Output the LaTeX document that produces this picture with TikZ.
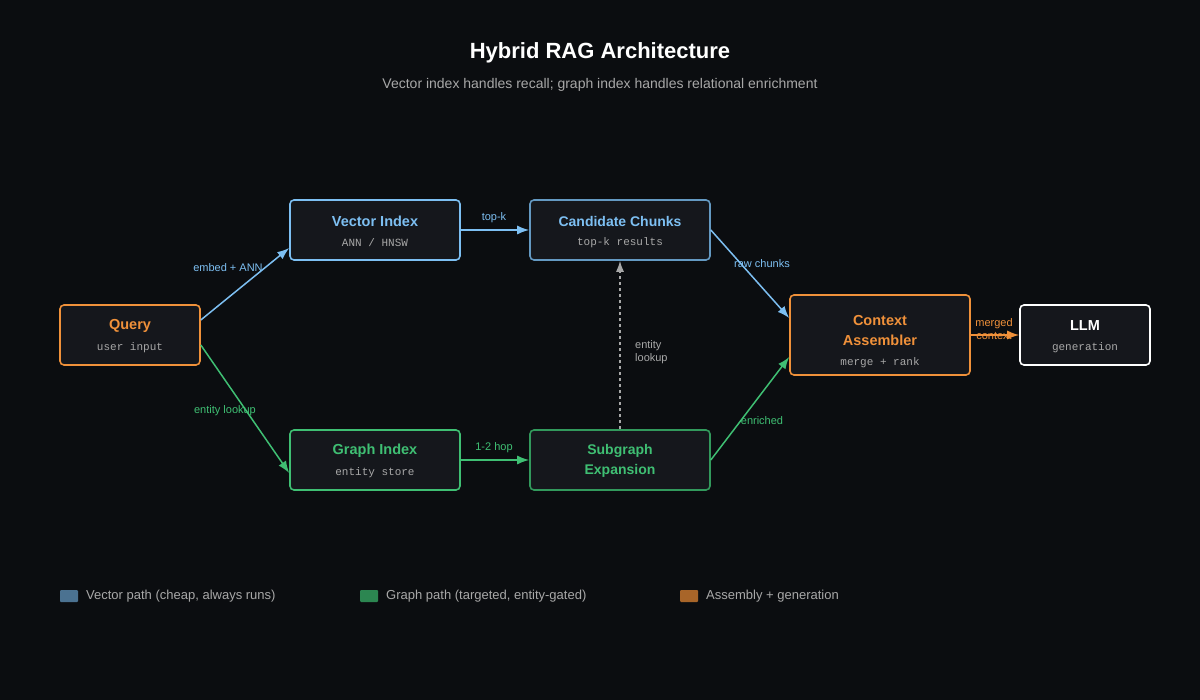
\documentclass[tikz,border=0pt]{standalone}
\usepackage{fontspec}
\setmainfont{Liberation Sans}
\setmonofont{Liberation Mono}
\usetikzlibrary{arrows.meta}
\definecolor{bg}{HTML}{0B0D10}
\definecolor{boxfill}{HTML}{15171C}
\definecolor{vecblue}{HTML}{7DBFF2}
\definecolor{graphgreen}{HTML}{3FBF73}
\definecolor{asmorange}{HTML}{F0913A}
\definecolor{subgray}{HTML}{A8A8A8}
\tikzset{
  box/.style={draw, rounded corners=4pt, line width=1.6pt, fill=boxfill, inner sep=0pt},
  ttl/.style={font=\bfseries\fontsize{14.5}{17}\selectfont, align=center},
  sub/.style={font=\ttfamily\fontsize{11}{13}\selectfont, text=subgray},
  lbl/.style={font=\fontsize{11}{13}\selectfont, inner sep=0pt},
  arr/.style={-{Latex[length=12pt,width=9pt]}, line width=1.5pt},
}
\begin{document}
\begin{tikzpicture}[x=1pt,y=-1pt]
  \fill[bg] (0,0) rectangle (1200,700);
  \useasboundingbox (0,0) rectangle (1200,700);
  % title
  \node[text=white, font=\bfseries\fontsize{22}{26}\selectfont] (title) at (600,53) {Hybrid RAG Architecture};
  \node[text=subgray, font=\fontsize{14}{17}\selectfont] (subtitle) at (600,85) {Vector index handles recall; graph index handles relational enrichment};
  % boxes
  \node[box, draw=asmorange, minimum width=140pt, minimum height=60pt] (query) at (130,335) {};
  \node[ttl, text=asmorange] at (130,326) {Query};
  \node[sub] at (130,348) {user input};
  \node[box, draw=vecblue, minimum width=170pt, minimum height=60pt] (vec) at (375,230) {};
  \node[ttl, text=vecblue] at (375,221) {Vector Index};
  \node[sub] at (375,243) {ANN / HNSW};
  \node[box, draw=vecblue!80!black, minimum width=180pt, minimum height=60pt] (cand) at (620,230) {};
  \node[ttl, text=vecblue, font=\bfseries\fontsize{14}{17}\selectfont] at (620,221) {Candidate Chunks};
  \node[sub] at (620,243) {top-k results};
  \node[box, draw=graphgreen, minimum width=170pt, minimum height=60pt] (graph) at (375,460) {};
  \node[ttl, text=graphgreen] at (375,451) {Graph Index};
  \node[sub] at (375,473) {entity store};
  \node[box, draw=graphgreen!80!black, minimum width=180pt, minimum height=60pt] (subg) at (620,460) {};
  \node[ttl, text=graphgreen, font=\bfseries\fontsize{14}{20}\selectfont] at (620,461) {Subgraph\\Expansion};
  \node[box, draw=asmorange, minimum width=180pt, minimum height=80pt] (ctx) at (880,335) {};
  \node[ttl, text=asmorange, font=\bfseries\fontsize{14.5}{20}\selectfont] at (880,331) {Context\\Assembler};
  \node[sub] at (880,363) {merge + rank};
  \node[box, draw=white, minimum width=130pt, minimum height=60pt] (llm) at (1085,335) {};
  \node[ttl, text=white] at (1085,326) {LLM};
  \node[sub] at (1085,348) {generation};
  % connectors
  \draw[arr, vecblue] ([yshift=15pt]query.east) -- ([yshift=-18pt]vec.west);
  \draw[arr, graphgreen] ([yshift=-10pt]query.east) -- ([yshift=-13pt]graph.west);
  \draw[arr, vecblue] (vec.east) -- (cand.west);
  \draw[arr, graphgreen] (graph.east) -- (subg.west);
  \draw[arr, vecblue] (cand.east) -- ([yshift=17pt]ctx.west);
  \draw[arr, graphgreen] (subg.east) -- ([yshift=-22pt]ctx.west);
  \draw[arr, subgray, dashed, line width=1.2pt, -{Latex[length=11pt,width=8pt]}] (subg.north) -- (cand.south);
  \draw[arr, asmorange] (ctx.east) -- (llm.west);
  % labels
  \node[lbl, text=vecblue] at (228,268) {embed + ANN};
  \node[lbl, text=graphgreen] at (225,411) {entity lookup};
  \node[lbl, text=vecblue] at (494,218) {top-k};
  \node[lbl, text=graphgreen] at (494,448) {1-2 hop};
  \node[lbl, text=vecblue] at (762,264) {raw chunks};
  \node[lbl, text=graphgreen] at (762,421) {enriched};
  \node[lbl, text=subgray, align=left, anchor=west, font=\fontsize{11}{13}\selectfont] at (635,352) {entity\\lookup};
  \node[lbl, text=asmorange, align=center] at (994,329) {merged\\context};
  % legend
  \fill[vecblue!60!black, rounded corners=1pt] (60,590) rectangle (78,602);
  \node[lbl, text=subgray, anchor=west, font=\fontsize{13}{16}\selectfont] at (86,596) {Vector path (cheap, always runs)};
  \fill[graphgreen!70!black, rounded corners=1pt] (360,590) rectangle (378,602);
  \node[lbl, text=subgray, anchor=west, font=\fontsize{13}{16}\selectfont] at (386,596) {Graph path (targeted, entity-gated)};
  \fill[asmorange!70!black, rounded corners=1pt] (680,590) rectangle (698,602);
  \node[lbl, text=subgray, anchor=west, font=\fontsize{13}{16}\selectfont] at (706,596) {Assembly + generation};
\end{tikzpicture}
\end{document}
